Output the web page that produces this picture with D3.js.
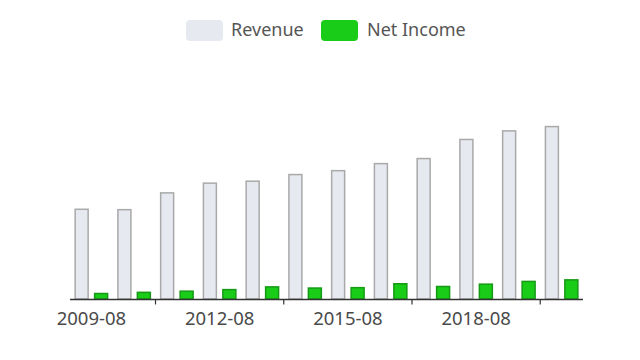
<!DOCTYPE html>
<html><head><meta charset="utf-8">
<script src="https://cdn.jsdelivr.net/npm/d3@7"></script>
<style>html,body{margin:0;padding:0;background:#fff;}svg{display:block;}</style>
</head><body>
<svg id="chart" width="640" height="360"></svg>
<script>
const categories = ["2009-08","2010-08","2011-08","2012-08","2013-08","2014-08","2015-08","2016-08","2017-08","2018-08","2019-08","2020-08"];
const revenue = [23.2, 23.1, 27.4, 29.9, 30.4, 32.1, 33.1, 34.9, 36.2, 41.1, 43.3, 44.4];
const netIncome = [1.6, 1.9, 2.2, 2.6, 3.3, 3.0, 3.1, 4.1, 3.4, 4.0, 4.7, 5.1];
const seriesNames = ["Revenue", "Net Income"];
const tickLabels = ["2009-08","2012-08","2015-08","2018-08"];

(function () {
const fills = {"Revenue": "#e6e9f0", "Net Income": "#18cc18"};
const strokes = {"Revenue": "#a9a9a9", "Net Income": "#169a16"};

const svg = d3.select("#chart");
const mLeft = 70, mRight = 583, mBottom = 299, mTop = 65;
const x0 = d3.scaleBand().domain(categories).range([mLeft, mRight]).padding(0);
const x1 = d3.scaleBand().domain(seriesNames).range([0, x0.bandwidth()]).paddingInner(0.256).paddingOuter(0.226);
const y = d3.scaleLinear().domain([0, 60]).range([mBottom, mTop]);

const rows = categories.map((c, i) => ({cat: c, vals: [
  {name: "Revenue", v: revenue[i]}, {name: "Net Income", v: netIncome[i]}]}));

const g = svg.append("g");
g.selectAll("g.cat").data(rows).join("g").attr("class", "cat")
  .attr("transform", d => `translate(${x0(d.cat)},0)`)
  .selectAll("rect").data(d => d.vals).join("rect")
  .attr("x", d => x1(d.name) + 0.75)
  .attr("width", x1.bandwidth() - 1.5)
  .attr("y", d => y(d.v) + 0.75)
  .attr("height", d => y(0) - y(d.v) - 0.75)
  .attr("fill", d => fills[d.name])
  .attr("stroke", d => strokes[d.name])
  .attr("stroke-width", 1.5);

const axis = d3.axisBottom(x0).tickValues(tickLabels).tickSize(0).tickPadding(12);
const ax = svg.append("g").attr("transform", `translate(0,${mBottom + 0.5})`).call(axis);
ax.select(".domain").attr("stroke", "#333").attr("stroke-width", 1.5).attr("d", `M${mLeft},0H${mRight}`);
ax.selectAll("text").attr("font-family", "'Noto Sans', sans-serif").attr("font-size", 18.5).attr("fill", "#4a4a4a");
const tickBounds = [categories[2], categories[5], categories[8], categories[11]];
ax.selectAll("line.bt").data(tickBounds).join("line").attr("class", "bt")
  .attr("x1", d => x0(d)).attr("x2", d => x0(d))
  .attr("y1", 0).attr("y2", 5).attr("stroke", "#333").attr("stroke-width", 1.2);

const legendData = [{name: "Revenue", x: 186, tx: 231}, {name: "Net Income", x: 321, tx: 367}];
const lg = svg.append("g");
lg.selectAll("rect").data(legendData).join("rect")
  .attr("x", d => d.x).attr("y", 20).attr("width", 37).attr("height", 21).attr("rx", 4)
  .attr("fill", d => fills[d.name]);
lg.selectAll("text").data(legendData).join("text")
  .attr("x", d => d.tx).attr("y", 36)
  .attr("font-family", "'Noto Sans', sans-serif").attr("font-size", 18).attr("fill", "#555")
  .text(d => d.name);
})();
</script>
</body></html>
